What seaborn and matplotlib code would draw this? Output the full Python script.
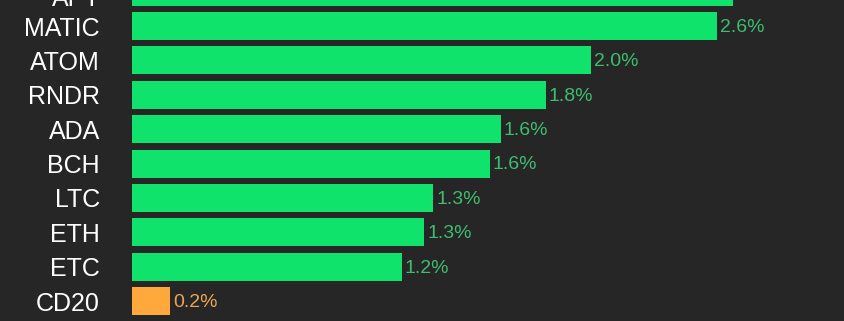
import matplotlib
matplotlib.use("Agg")
import matplotlib.pyplot as plt
import seaborn as sns
import pandas as pd

coins = ["APT", "MATIC", "ATOM", "RNDR", "ADA", "BCH", "LTC", "ETH", "ETC", "CD20"]
changes = [2.67, 2.6, 2.04, 1.84, 1.64, 1.59, 1.34, 1.30, 1.2, 0.17]
labels = ["2.7%", "2.6%", "2.0%", "1.8%", "1.6%", "1.6%", "1.3%", "1.3%", "1.2%", "0.2%"]

BG = "#262626"
GREEN = "#10E36B"
GREEN_TXT = "#3DBE6E"
ORANGE = "#FFA83C"
ORANGE_TXT = "#EBA55A"

bar_colors = [ORANGE if c == "CD20" else GREEN for c in coins]
txt_colors = [ORANGE_TXT if c == "CD20" else GREEN_TXT for c in coins]

df = pd.DataFrame({"coin": coins, "change": changes})

sns.set_style("dark")
plt.rcParams["font.family"] = ["Liberation Sans", "DejaVu Sans"]

fig = plt.figure(figsize=(8.45, 3.21), dpi=100, facecolor=BG)
ax = fig.add_axes([132 / 845, 0, 713 / 845, 1])
ax.set_facecolor(BG)

sns.barplot(data=df, y="coin", x="change", hue="coin", palette=bar_colors,
            order=coins, hue_order=coins, orient="h", width=0.81,
            legend=False, ax=ax, saturation=1, linewidth=0)

for i, (v, lab, tc) in enumerate(zip(changes, labels, txt_colors)):
    dy = -3 if i == 0 else -1
    ax.annotate(lab, xy=(v, i), xytext=(2, dy), textcoords="offset points",
                ha="left", va="center", color=tc, fontsize=14,
                annotation_clip=False)

# category label of the bar cut off at the top edge (as in the source image)
ax.annotate(coins[0], xy=(0, 0), xytext=(-23, -5), textcoords="offset points",
            ha="right", va="center", color="white", fontsize=18,
            annotation_clip=False)

ax.set_xlim(0, 713 / 225)
ax.set_ylim(9.576, 0.244)
ax.set_xlabel("")
ax.set_ylabel("")
ax.set_xticks([])
ax.tick_params(axis="y", length=0, pad=23, labelsize=18, labelcolor="white")
for s in ax.spines.values():
    s.set_visible(False)
ax.grid(False)

fig.savefig("out.png", dpi=100, facecolor=BG)
